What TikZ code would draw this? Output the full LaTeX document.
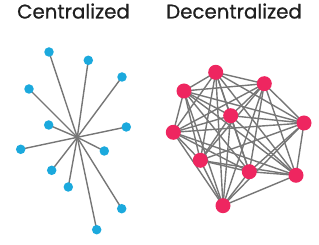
\documentclass[tikz,border=0pt]{standalone}
\usepackage{fontspec}
\setmainfont{Poppins}
\newfontfamily\titlefont{Poppins}[FakeBold=0.7]
\definecolor{cblue}{HTML}{1BA9DD}
\definecolor{cred}{HTML}{EE2660}
\definecolor{cgray}{HTML}{767676}
\begin{document}
\begin{tikzpicture}[x=1pt,y=-1pt,
  bnode/.style={circle,fill=cblue,inner sep=0pt,minimum size=9.5pt},
  rnode/.style={circle,fill=cred,inner sep=0pt,minimum size=15pt},
  link/.style={draw=cgray,line width=1.4pt},
  title/.style={anchor=base,font=\titlefont\fontsize{19.8}{22}\selectfont,text=black!88,inner sep=0pt}]
\useasboundingbox (0,0) rectangle (319,245);
\node[title] (t1) at (73.5,18.5) {Centralized};
\node[title] (t2) at (234,18.5) {Decentralized};
% centralized
\coordinate (c) at (77.3,137.3);
\foreach \n/\x/\y in {b1/49/52, b2/88.3/60.3, b3/122/77, b4/29/89, b5/48.7/125, b6/126.3/127,
  b7/20.7/149.3, b8/104.3/151, b9/51.7/170.3, b10/68.3/187, b11/121.7/208.7, b12/96.7/229.7}{
  \coordinate (\n) at (\x,\y);
}
\foreach \n in {b1,b2,b3,b4,b5,b6,b7,b8,b9,b10,b11,b12}{
  \draw[link] (c) -- (\n);
}
\foreach \n in {b1,b2,b3,b4,b5,b6,b7,b8,b9,b10,b11,b12}{
  \node[bnode] (n\n) at (\n) {};
}
% decentralized
\foreach \n/\x/\y in {r1/215.7/72.3, r2/264.3/83.7, r3/184/91, r4/230.7/115.7, r5/304/123,
  r6/173.3/132.3, r7/200.3/160.3, r8/249.3/171.7, r9/296/175.3, r10/223/205.7}{
  \coordinate (\n) at (\x,\y);
}
\foreach \a/\rest in {r1/{r2,r3,r4,r5,r6,r7,r8,r9,r10}, r2/{r3,r4,r5,r6,r7,r8,r9,r10},
  r3/{r4,r5,r6,r7,r8,r9,r10}, r4/{r5,r6,r7,r8,r9,r10}, r5/{r6,r7,r8,r9,r10},
  r6/{r7,r8,r9,r10}, r7/{r8,r9,r10}, r8/{r9,r10}, r9/{r10}}{
  \foreach \b in \rest { \draw[link] (\a) -- (\b); }
}
\foreach \n in {r1,r2,r3,r4,r5,r6,r7,r8,r9,r10}{
  \node[rnode] (n\n) at (\n) {};
}
\end{tikzpicture}
\end{document}
